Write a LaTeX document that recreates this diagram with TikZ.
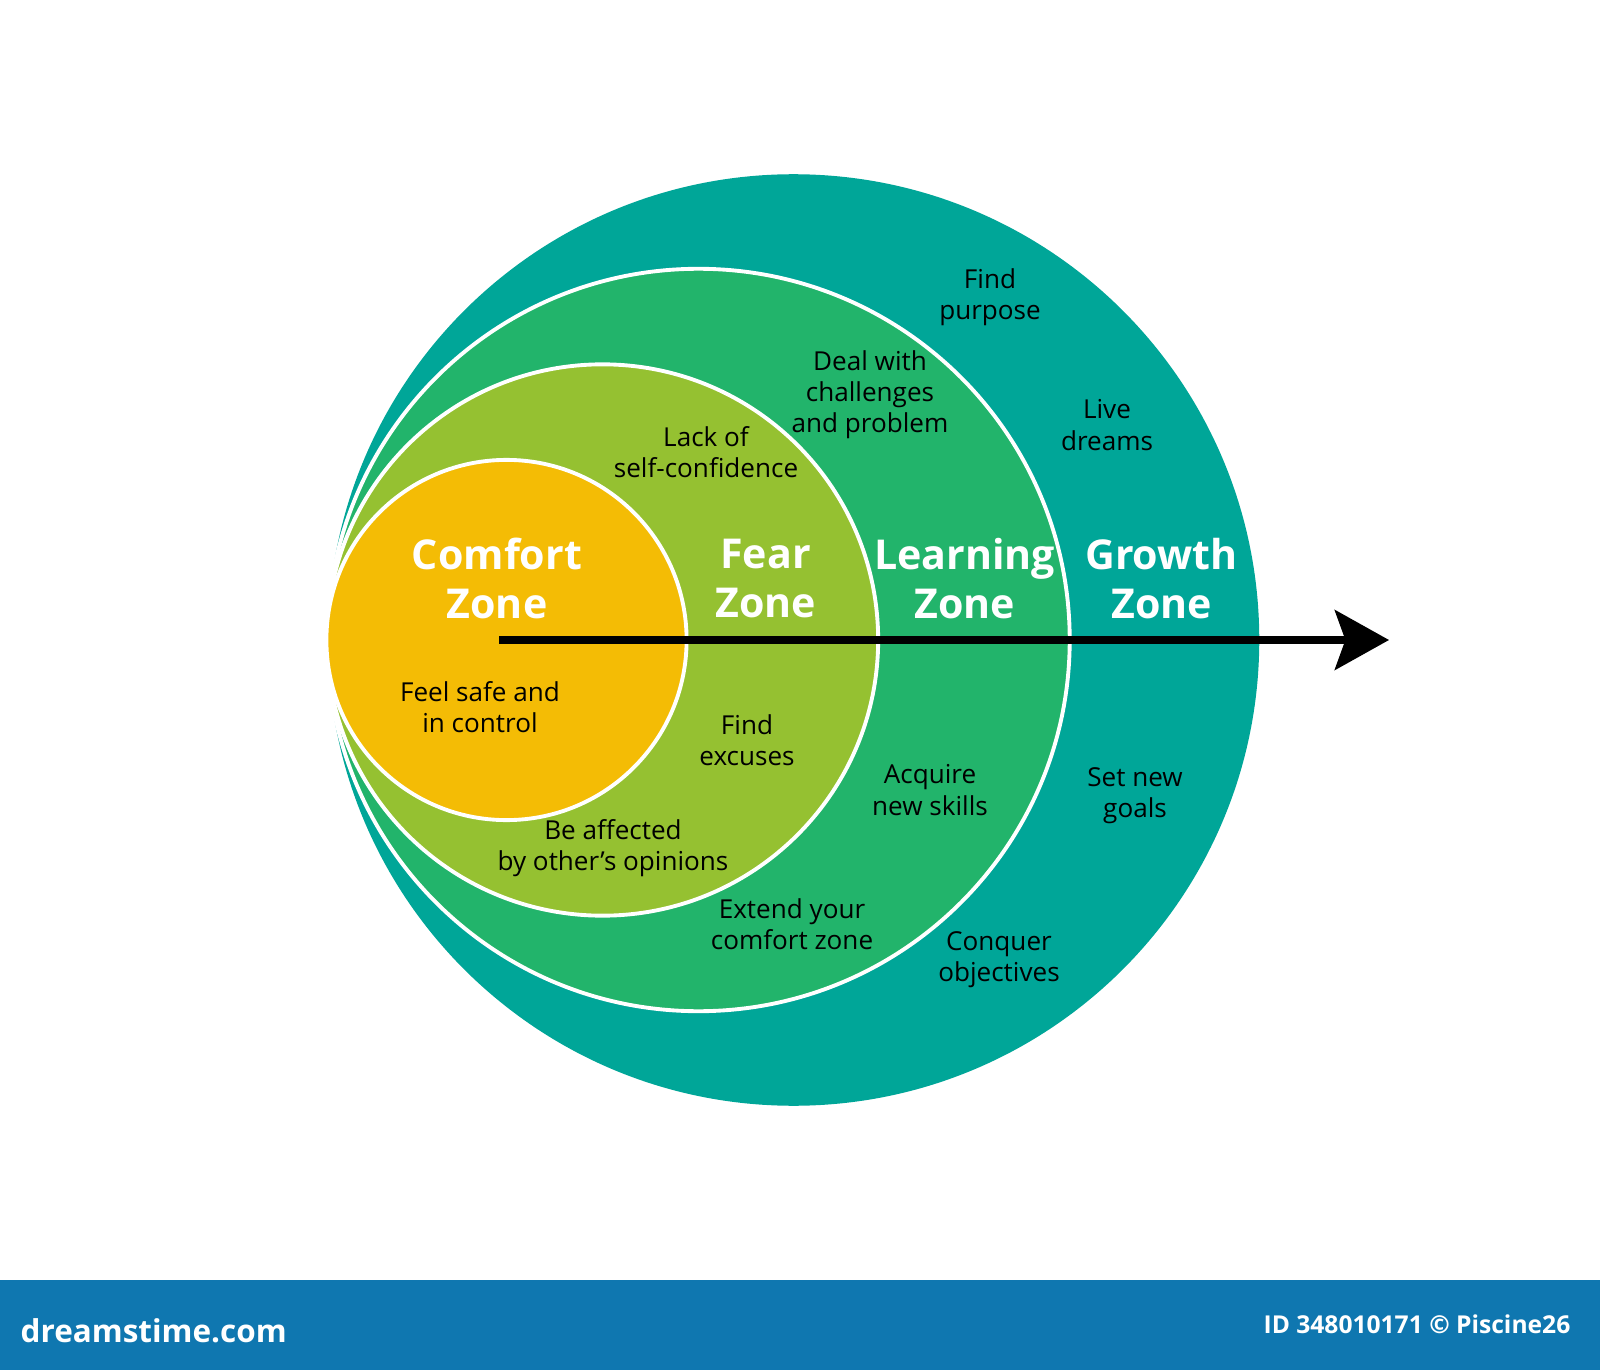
\documentclass[tikz,border=0pt]{standalone}
\usepackage{fontspec}
\setmainfont{Open Sans}
\usetikzlibrary{arrows.meta}
\definecolor{growthc}{HTML}{00A698}
\definecolor{learnc}{HTML}{22B46B}
\definecolor{fearc}{HTML}{95C131}
\definecolor{comfortc}{HTML}{F4BC05}
\definecolor{bandc}{HTML}{0F77B0}
\tikzset{
  zone/.style={circle,inner sep=0pt,outer sep=0pt,draw=white,line width=1.1pt},
  note/.style={align=center,inner sep=0pt,text=black,font=\fontsize{7.42}{8.85}\selectfont},
  title/.style={align=center,inner sep=0pt,text=white,font=\bfseries\fontsize{11.7}{13.95}\selectfont},
  foot/.style={inner sep=0pt,text=white,font=\bfseries\fontsize{7}{8}\selectfont},
  flow/.style={line width=2pt,-{Stealth[length=15.4pt,width=17pt,inset=3pt]}}
}
\begin{document}
\begin{tikzpicture}[x=0.01cm,y=-0.01cm]
\useasboundingbox (0,0) rectangle (1600,1370);
\node[zone,draw=none,fill=growthc,minimum size=9.31cm] (growth) at (793.5,640) {};
\node[zone,fill=learnc,minimum size=7.42cm] (learning) at (698.5,640) {};
\node[zone,fill=fearc,minimum size=5.51cm] (fear) at (602.5,640) {};
\node[zone,fill=comfortc,minimum size=3.6cm] (comfort) at (506.5,640) {};
\coordinate (start) at (499,640);
\coordinate (tip) at (1389,640);
\draw[flow] (start) -- (tip);
\node[title] (t1) at (497,578.5) {Comfort\\Zone};
\node[title] (t2) at (765.5,578.5) {Fear\\Zone};
\node[title] (t3) at (964.5,578.5) {Learning\\Zone};
\node[title] (t4) at (1161.5,578.5) {Growth\\Zone};
\node[note] (n1) at (990,297) {Find\\purpose};
\node[note] (n2) at (870,395) {Deal with\\challenges\\and problem};
\node[note] (n3) at (1107,425) {Live\\dreams};
\node[note] (n4) at (706,452) {Lack of\\self-confidence};
\node[note] (n5) at (480,707) {Feel safe and\\in control};
\node[note] (n6) at (747,740) {Find\\excuses};
\node[note] (n7) at (930,790) {Acquire\\new skills};
\node[note] (n8) at (1135,796) {Set new\\goals};
\node[note] (n9) at (613,848) {Be affected\\by other’s opinions};
\node[note] (n10) at (792,924) {Extend your\\comfort zone};
\node[note] (n11) at (999,960) {Conquer\\objectives};
\fill[bandc] (0,1280) rectangle (1600,1370);
\node[foot,anchor=base west,font=\bfseries\fontsize{8.95}{10}\selectfont] (f1) at (20,1342) {dreamstime.com};
\node[foot,anchor=base east] (f2) at (1571,1333) {ID 348010171 © Piscine26};
\end{tikzpicture}
\end{document}
